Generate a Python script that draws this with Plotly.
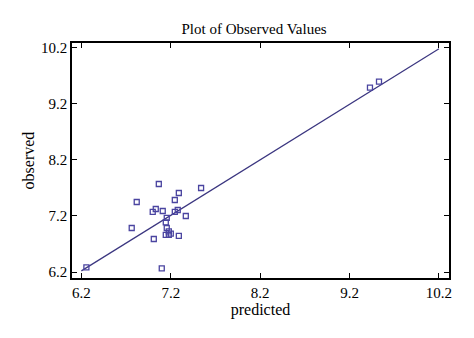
import plotly.graph_objects as go

predicted = [6.256, 7.099, 6.763, 6.819, 7.066, 7.032, 6.998, 7.010, 7.110, 7.155,
             7.144, 7.155, 7.178, 7.144, 7.200, 7.178, 7.290, 7.245, 7.278, 7.245,
             7.290, 7.368, 7.539, 9.428, 9.529]
observed = [6.284, 6.266, 6.984, 7.448, 7.769, 7.323, 7.270, 6.788, 7.287, 7.163,
            7.086, 6.984, 6.925, 6.860, 6.884, 6.860, 6.843, 7.270, 7.305, 7.483,
            7.608, 7.198, 7.697, 9.487, 9.594]
line_x = [6.2, 10.2]
line_y = [6.22, 10.18]
tick_vals = [6.2, 7.2, 8.2, 9.2, 10.2]
tick_text = ["6.2", "7.2", "8.2", "9.2", "10.2"]

serif = "Liberation Serif, DejaVu Serif, serif"

fig = go.Figure()
fig.add_trace(go.Scatter(x=line_x, y=line_y, mode="lines",
                         line=dict(color="#3b3680", width=1.2), showlegend=False))
fig.add_trace(go.Scatter(x=predicted, y=observed, mode="markers",
                         marker=dict(symbol="square-open", size=5, color="#4a44a0",
                                     line=dict(width=1.3, color="#4a44a0")),
                         showlegend=False))

axis_common = dict(
    tickvals=tick_vals, ticktext=tick_text, ticks="inside", ticklen=5,
    tickwidth=1.2, tickcolor="black", showgrid=False, zeroline=False,
    showline=True, linecolor="black", linewidth=1.5, mirror="ticks",
    tickfont=dict(family=serif, size=15, color="black"),
    title_font=dict(family=serif, size=16, color="black"),
)

fig.update_layout(
    width=474, height=338,
    margin=dict(l=72, r=25, t=43, b=60),
    paper_bgcolor="white", plot_bgcolor="white",
    title=dict(text="Plot of Observed Values", x=0.536, xanchor="center",
               y=1 - 29 / 338, yanchor="middle",
               font=dict(family=serif, size=15, color="black")),
    xaxis=dict(range=[6.095, 10.312], title=dict(text="predicted", standoff=1),
               **axis_common),
    yaxis=dict(range=[6.093, 10.282], title=dict(text="observed", standoff=2),
               **axis_common),
)

fig.write_html("out.html")
